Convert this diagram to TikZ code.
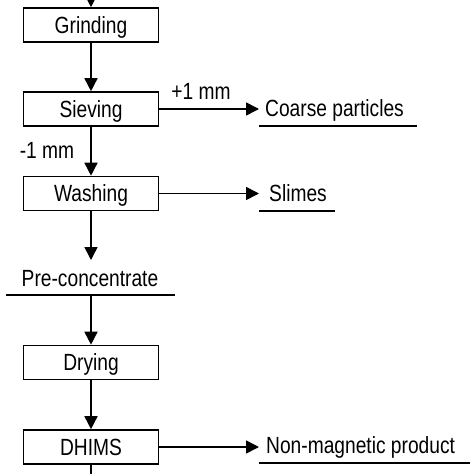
\documentclass[tikz,border=0pt]{standalone}
\usepackage{fontspec}
\setmainfont[FakeStretch=0.82]{Liberation Sans}
\usetikzlibrary{arrows.meta}
\begin{document}
\begin{tikzpicture}[x=1pt,y=-1pt,
  every node/.style={font=\fontsize{23.4}{27}\selectfont, inner sep=0pt},
  stepbox/.style={draw, line width=1.6pt, minimum width=135pt, minimum height=34pt, text height=16.6pt, text depth=0pt},
  flow/.style={line width=1.6pt, -{Triangle[length=13pt,width=13pt]}},
  rule/.style={line width=1.6pt},
  plain/.style={text height=16.6pt, text depth=0pt},
  lbl/.style={anchor=west, text height=16.6pt, text depth=0pt}]
\useasboundingbox (0,0) rectangle (474,474);
\clip (0,0) rectangle (474,474);
\fill[white] (0,0) rectangle (474,474);
\node[stepbox] (grind) at (91,25) {Grinding};
\node[stepbox] (siev) at (91,109) {Sieving};
\node[stepbox] (wash) at (91,193.5) {Washing};
\node[plain] (pc) at (90,278) {Pre-concentrate};
\coordinate (pcL) at (6,295);
\coordinate (pcR) at (175,295);
\coordinate (pcM) at (91,295);
\coordinate (pcT) at (91,260);
\node[stepbox] (dry) at (91,362.5) {Drying};
\node[stepbox] (dhims) at (91,447) {DHIMS};
\coordinate (top) at (91,-10);
\coordinate (bot) at (91,480);
% outputs
\coordinate (cpA) at (259,109);
\node[lbl] (cp) at (265,108) {Coarse particles};
\coordinate (cpL) at (259,126);
\coordinate (cpR) at (417,126);
\coordinate (slA) at (259,193.5);
\node[lbl] (sl) at (269,193) {Slimes};
\coordinate (slL) at (259,211);
\coordinate (slR) at (335,211);
\coordinate (nmA) at (259,447);
\node[lbl] (nm) at (266,445) {Non-magnetic product};
\coordinate (nmL) at (259,463);
\coordinate (nmR) at (470,463);
\node[plain] (plus) at (201,91) {+1 mm};
\node[plain] (minus) at (47,150) {-1 mm};
% connectors
\draw[flow] (top) -- (grind.north);
\draw[flow] (grind.south) -- (siev.north);
\draw[flow] (siev.south) -- (wash.north);
\draw[flow] (wash.south) -- (pcT);
\draw[rule] (pcL) -- (pcR);
\draw[flow] (pcM) -- (dry.north);
\draw[flow] (dry.south) -- (dhims.north);
\draw[rule] (dhims.south) -- (bot);
\draw[flow] (siev.east) -- (cpA);
\draw[rule] (cpL) -- (cpR);
\draw[flow] (wash.east) -- (slA);
\draw[rule] (slL) -- (slR);
\draw[flow] (dhims.east) -- (nmA);
\draw[rule] (nmL) -- (nmR);
\end{tikzpicture}
\end{document}
